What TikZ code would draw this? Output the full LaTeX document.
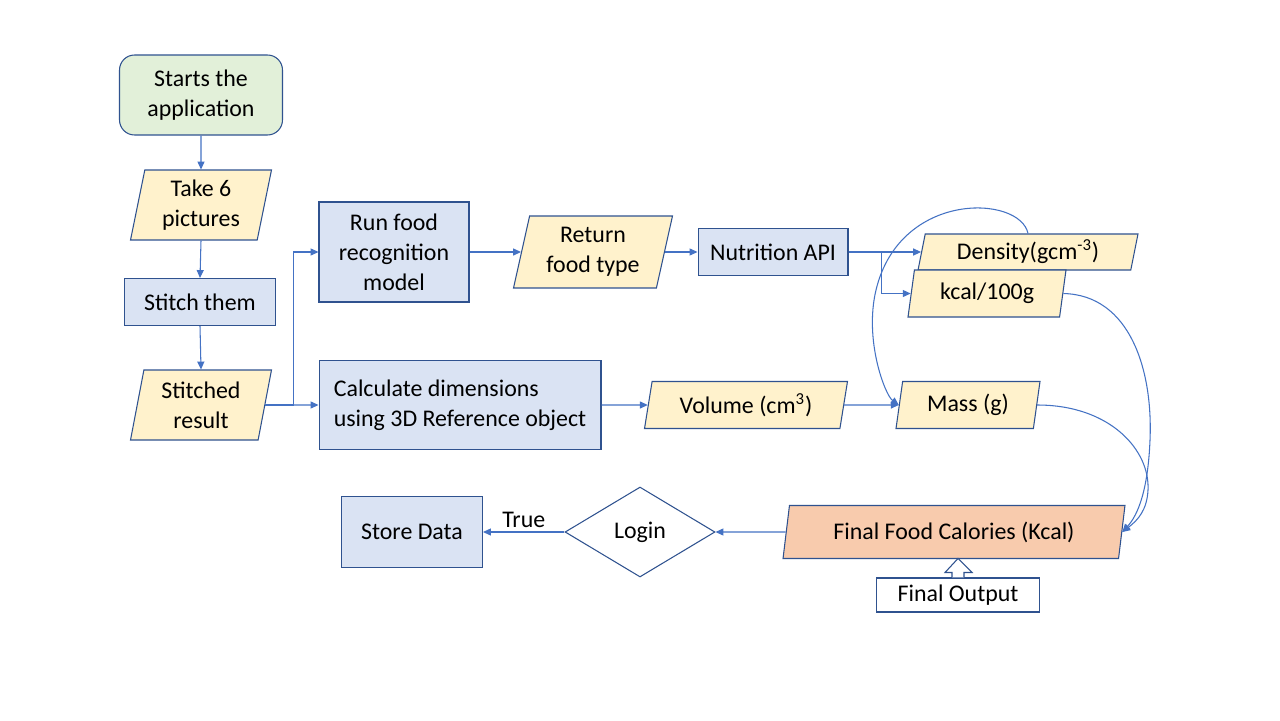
\documentclass[tikz,border=0pt]{standalone}
\usepackage{fontspec}
\setmainfont{Carlito}
\usetikzlibrary{shapes.geometric,arrows.meta,calc}
\definecolor{lineblue}{HTML}{4472C4}
\definecolor{edgeblue}{HTML}{2F528F}
\definecolor{boxfill}{HTML}{DAE3F3}
\definecolor{iofill}{HTML}{FFF2CC}
\definecolor{startfill}{HTML}{E2F0D9}
\definecolor{calfill}{HTML}{F8CBAD}
\begin{document}
\begin{tikzpicture}[x=0.02cm, y=-0.02cm,
    every node/.style={font=\fontsize{13.6}{17}\selectfont, align=center, inner sep=2pt},
    box/.style={draw=edgeblue, line width=0.6pt, fill=boxfill},
    io/.style={draw=edgeblue, line width=0.6pt, fill=iofill, trapezium, trapezium left angle=76,
      trapezium right angle=104, trapezium stretches body},
    arr/.style={draw=lineblue, line width=0.6pt, -{Triangle[length=4.5pt,width=4pt]}}]
        \fill[white] (0, 0) rectangle (1280, 720);
        \useasboundingbox (0, 0) rectangle (1280, 720);

        \node[draw=edgeblue, line width=0.6pt, fill=startfill, rounded corners=0.3cm, minimum width=3.26cm, minimum height=1.6cm] (start) at (201, 95) {Starts the\\application};
        \node[io, minimum width=2.82cm, minimum height=1.4cm] (take) at (201, 205) {Take 6\\pictures};
        \node[box, minimum width=3.02cm, minimum height=0.94cm] (stitch) at (200, 302) {Stitch them};
        \node[io, minimum width=2.82cm, minimum height=1.4cm] (stitched) at (201, 405) {Stitched\\result};

        \node[box, minimum width=3cm, minimum height=2cm] (run) at (394, 252) {Run food\\recognition\\model};
        \node[io, trapezium left angle=74, trapezium right angle=106, minimum width=3.18cm, minimum height=1.44cm] (foodtype) at (593, 252) {Return\\food type};
        \node[box, minimum width=3cm, minimum height=0.94cm] (api) at (773, 252) {Nutrition API};
        \node[io, trapezium left angle=77, trapezium right angle=103, minimum width=4.4cm, minimum height=0.72cm] (density) at (1028, 252) {Density(gcm\textsuperscript{-3})};
        \node[io, trapezium left angle=77, trapezium right angle=103, minimum width=3.16cm, minimum height=0.94cm] (kcal) at (987, 293.5) {kcal/100g};

        \node[box, minimum width=5.64cm, minimum height=1.78cm, align=left] (calc) at (460, 405) {Calculate dimensions\\using 3D Reference object};
        \node[io, minimum width=4.06cm, minimum height=0.94cm] (volume) at (746, 405) {Volume (cm\textsuperscript{3})};
        \node[io, trapezium left angle=77, trapezium right angle=103, minimum width=2.88cm, minimum height=0.94cm] (mass) at (968, 405) {Mass (g)};

        \node[io, fill=calfill, trapezium left angle=77, trapezium right angle=103, minimum width=6.84cm, minimum height=1.06cm] (calories) at (954, 532) {Final Food Calories (Kcal)};
        \node[draw=edgeblue, line width=0.6pt, fill=white, minimum width=3.26cm, minimum height=0.68cm] (output) at (958, 595) {Final Output};
        \node[diamond, draw=edgeblue, line width=0.6pt, fill=white, minimum width=3cm, minimum height=1.8cm, inner sep=0pt] (login) at (640, 532) {Login};
        \node[box, minimum width=2.82cm, minimum height=1.42cm] (store) at (412, 532) {Store Data};

        \draw[arr] (start.south) -- (take.north);
        \draw[arr] (take.south) -- (stitch.north);
        \draw[arr] (stitch.south) -- (stitched.north);
        \draw[arr] (stitched.east) -- (calc.west);
        \draw[arr] (stitched.east) -- ++(28, 0) |- (run.west);
        \draw[arr] (run.east) -- (run.east -| foodtype.west);
        \draw[arr] (foodtype.east) -- (foodtype.east -| api.west);
        \draw[arr] (api.east) -- (api.east -| density.west);
        \draw[arr] (api.east) -- ++(33, 0) |- (kcal.west);
        \draw[arr] (calc.east) -- (volume.west);
        \draw[arr] (volume.east) -- (mass.west);

        \draw[arr] (density.north) .. controls (1020, 195) and (900, 190) .. (876, 290) .. controls (864, 340) and (885, 395) .. (mass.west);
        \draw[arr] (kcal.east) .. controls (1130, 295) and (1153, 370) .. (1150, 440) .. controls (1148, 490) and (1138, 515) .. (calories.east);
        \draw[arr] (mass.east) .. controls (1110, 405) and (1150, 450) .. (1148, 490) .. controls (1147, 510) and (1138, 520) .. (calories.east);

        \draw[arr] (calories.west) -- (login.east);
        \draw[arr] (login.west) -- node[above] {True} (store.east);

        \draw[draw=edgeblue, line width=0.6pt, fill=white] ($(output.north) + (-6, 0)$) -- ++(0, -5) -- ++(-7, 0)
          -- ($(output.north) + (0, -19)$) -- ($(output.north) + (14, -5)$) -- ++(-8, 0) -- ($(output.north) + (6, 0)$);
      \end{tikzpicture}
\end{document}
